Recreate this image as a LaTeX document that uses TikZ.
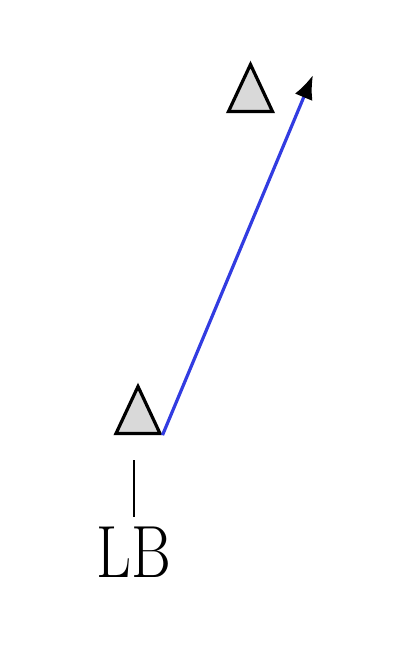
\documentclass[tikz,border=0pt]{standalone}
\usetikzlibrary{positioning}
\usetikzlibrary{shapes.geometric}
\usetikzlibrary{arrows.meta}

\begin{document}
\begin{tikzpicture}[x=1pt, y=-1pt]
  % definition of the basic styles.
  \tikzstyle{station}=[draw=black, line width=3.2pt, fill=gray!30,
    isosceles triangle, isosceles triangle stretches, shape border rotate=90,
    minimum width=44pt, minimum height=47pt, inner sep=0pt]
  \tikzstyle{move}=[draw={rgb,255:red,50;green,60;blue,225}, line width=3.2pt,
    -{Latex[black, length=24pt, width=19pt]}]
  % The frame of the picture
  \useasboundingbox (0,0) rectangle (406,646);

  % The two stations
  \node[station] (base) at (138,419.5) {};
  \node[station] (rover) at (250.5,97.5) {};
  \coordinate (tip) at (313,75);

  % The vector between them
  \draw[move] (base.right corner) -- (tip);

  % label of the lower station
  \coordinate (tick top) at (134,460);
  \node[font=\fontsize{74}{80}\selectfont, xscale=0.82, anchor=base, inner sep=0pt]
    (label) at (134,577) {LB};
  \draw[line width=1.8pt] (tick top) -- ([yshift=9pt]label.north);
\end{tikzpicture}
\end{document}
